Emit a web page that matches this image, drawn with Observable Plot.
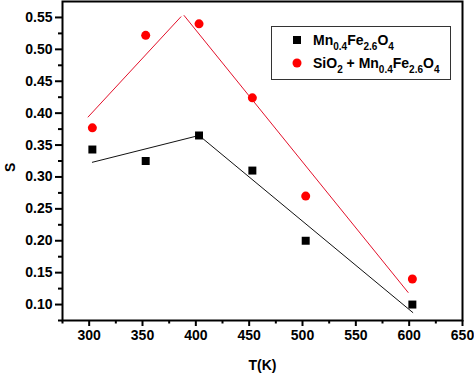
<!DOCTYPE html>
<html>
<head>
<meta charset="utf-8">
<script src="https://cdn.jsdelivr.net/npm/d3@7"></script>
<script src="https://cdn.jsdelivr.net/npm/@observablehq/plot@0.6"></script>
<style>
  body { margin: 0; background: #fff; }
  #wrap { position: relative; width: 474px; height: 375px; font-family: "Liberation Sans", Arial, sans-serif; font-weight: bold; }
  #legend { position: absolute; left: 271px; top: 26px; width: 178px; height: 52px; border: 1px solid #333; background: #fff; font-size: 14px; color: #000; }
  .row { position: absolute; left: 0; height: 20px; line-height: 20px; white-space: nowrap; }
  .txt { position: absolute; left: 41px; top: 0; }
  .mk { position: absolute; }
  sub { font-size: 10px; vertical-align: -5px; line-height: 0; }
</style>
</head>
<body>
<div id="wrap"></div>
<script>
// Data
const temps = [303, 353, 403, 453, 503, 603];
const sMn = [0.343, 0.325, 0.365, 0.310, 0.200, 0.100];
const sSiO2 = [0.377, 0.522, 0.540, 0.424, 0.270, 0.140];

// Guide (fit) lines
const blackLineT = [303, 403, 603.4];
const blackLineS = [0.323, 0.365, 0.0875];
const redLeftT = [299, 386];
const redLeftS = [0.394, 0.551];
const redRightT = [389, 599];
const redRightS = [0.553, 0.119];

const xTicks = [300, 350, 400, 450, 500, 550, 600, 650];
const xMinor = [275, 325, 375, 425, 475, 525, 575, 625];
const yTicks = [0.10, 0.15, 0.20, 0.25, 0.30, 0.35, 0.40, 0.45, 0.50, 0.55];
const yMinor = [0.075, 0.125, 0.175, 0.225, 0.275, 0.325, 0.375, 0.425, 0.475, 0.525];

const mn = temps.map((t, i) => ({t, s: sMn[i]}));
const si = temps.map((t, i) => ({t, s: sSiO2[i]}));
const bl = blackLineT.map((t, i) => ({t, s: blackLineS[i]}));
const rl = redLeftT.map((t, i) => ({t, s: redLeftS[i]}));
const rr = redRightT.map((t, i) => ({t, s: redRightS[i]}));

const chart = Plot.plot({
  width: 474,
  height: 375,
  marginLeft: 62,
  marginRight: 12,
  marginTop: 1,
  marginBottom: 55,
  style: {fontFamily: '"Liberation Sans", Arial, sans-serif', fontWeight: "bold", fontSize: "14px", color: "#000", background: "#fff"},
  x: {domain: [275, 650]},
  y: {domain: [0.075, 0.575]},
  marks: [
    Plot.axisX(xTicks, {tickSize: 6, tickPadding: 4, tickFormat: d => String(d), label: null, strokeWidth: 2, fontSize: 14}),
    Plot.axisX(xMinor, {tickSize: 3.5, tickFormat: null, text: null, label: null, strokeWidth: 2}),
    Plot.axisY(yTicks, {tickSize: 7, tickPadding: 3, tickFormat: d3.format(".2f"), label: null, strokeWidth: 2, fontSize: 14}),
    Plot.axisY(yMinor, {tickSize: 4, tickFormat: null, text: null, label: null, strokeWidth: 2}),
    Plot.frame({stroke: "#000", strokeWidth: 2}),
    Plot.line(bl, {x: "t", y: "s", stroke: "#111", strokeWidth: 1}),
    Plot.line(rl, {x: "t", y: "s", stroke: "#e3102a", strokeWidth: 1}),
    Plot.line(rr, {x: "t", y: "s", stroke: "#e3102a", strokeWidth: 1}),
    Plot.dot(mn, {x: "t", y: "s", symbol: "square", r: 4.5, fill: "#000", stroke: "none"}),
    Plot.dot(si, {x: "t", y: "s", symbol: "circle", r: 4.5, fill: "#ff0000", stroke: "none"}),
    Plot.text(["T(K)"], {frameAnchor: "bottom", dy: 45, lineAnchor: "middle", fontSize: 14, fontWeight: "bold"}),
    Plot.text(["S"], {frameAnchor: "left", dx: -52, dy: 11, rotate: -90, lineAnchor: "middle", fontSize: 14, fontWeight: "bold"})
  ]
});
const wrap = document.getElementById("wrap");
wrap.appendChild(chart);

const legend = document.createElement("div");
legend.id = "legend";
legend.innerHTML = `
  <div class="row" style="top:3px;width:178px">
    <svg class="mk" style="left:20px;top:5px" width="10" height="10"><rect x="1" y="1" width="8" height="8" fill="#000"/></svg>
    <span class="txt">Mn<sub>0.4</sub>Fe<sub>2.6</sub>O<sub>4</sub></span>
  </div>
  <div class="row" style="top:26px;width:178px">
    <svg class="mk" style="left:20px;top:5px" width="10" height="10"><circle cx="5" cy="5" r="4.5" fill="#ff0000"/></svg>
    <span class="txt">SiO<sub>2</sub> + Mn<sub>0.4</sub>Fe<sub>2.6</sub>O<sub>4</sub></span>
  </div>`;
wrap.appendChild(legend);
</script>
</body>
</html>
